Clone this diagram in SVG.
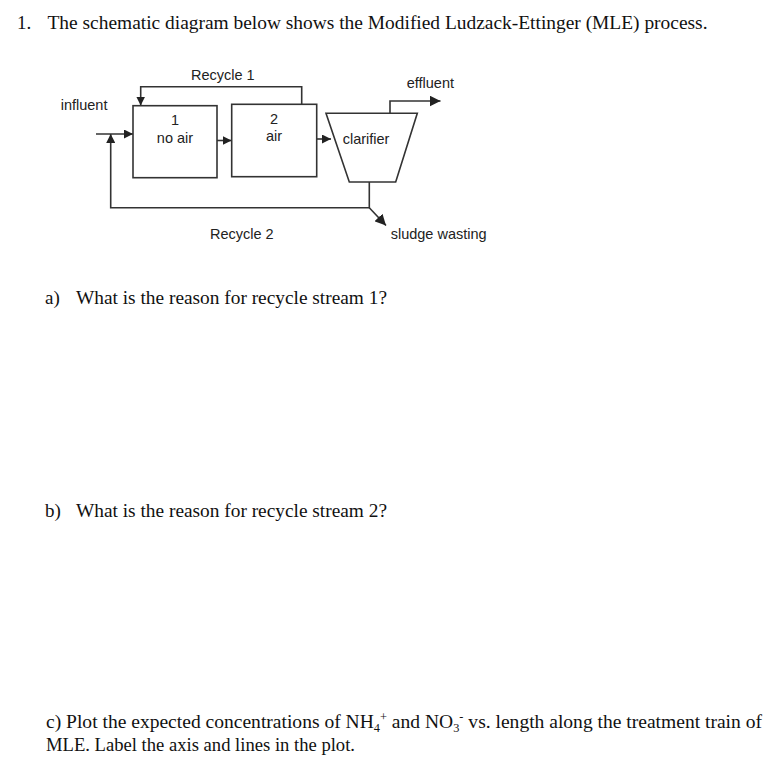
<svg xmlns="http://www.w3.org/2000/svg" width="776" height="768" viewBox="0 0 776 768">
<defs>
<style>
.q{font-family:"Liberation Serif","Times New Roman",serif;font-size:19px;fill:#111}
.l{font-family:"Liberation Sans",Arial,sans-serif;font-size:14.5px;fill:#222}
.ln{fill:none;stroke:#333;stroke-width:1.6}
.bx{fill:#fff;stroke:#333;stroke-width:1.6}
</style>
<marker id="ah" viewBox="0 0 10 10" refX="10" refY="5" markerWidth="9" markerHeight="9" markerUnits="userSpaceOnUse" orient="auto">
<path d="M0,0 L10,5 L0,10 Z" fill="#222"/>
</marker>
<marker id="ahb" viewBox="0 0 10 10" refX="10" refY="5" markerWidth="11" markerHeight="11" markerUnits="userSpaceOnUse" orient="auto">
<path d="M0,0 L10,5 L0,10 Z" fill="#222"/>
</marker>
</defs>
<rect width="776" height="768" fill="#fff"/>
<g id="questions">
<text class="q" x="17" y="28.5">1.</text>
<text class="q" x="47.5" y="28.5" textLength="660" lengthAdjust="spacingAndGlyphs">The schematic diagram below shows the Modified Ludzack-Ettinger (MLE) process.</text>
<text class="q" x="45" y="304">a)</text>
<text class="q" x="76" y="304" textLength="311" lengthAdjust="spacingAndGlyphs">What is the reason for recycle stream 1?</text>
<text class="q" x="45" y="516.5">b)</text>
<text class="q" x="76" y="516.5" textLength="311" lengthAdjust="spacingAndGlyphs">What is the reason for recycle stream 2?</text>
<text class="q" x="46" y="728" textLength="716" lengthAdjust="spacingAndGlyphs">c) Plot the expected concentrations of NH<tspan font-size="12" dy="4">4</tspan><tspan font-size="12" dy="-11">+</tspan><tspan dy="7"> and NO</tspan><tspan font-size="12" dy="4">3</tspan><tspan font-size="12" dy="-11">-</tspan><tspan dy="7"> vs. length along the treatment train of</tspan></text>
<text class="q" x="46" y="751" textLength="309" lengthAdjust="spacingAndGlyphs">MLE. Label the axis and lines in the plot.</text>
</g>
<g id="connectors">
<polyline class="ln" points="301.7,104.3 301.7,86.7 140.7,86.7 140.7,105.5" marker-end="url(#ah)"/>
<line class="ln" x1="96" y1="134" x2="133" y2="134" marker-end="url(#ah)"/>
<polyline class="ln" points="369.3,182 369.3,207.7 110.7,207.7 110.7,134" marker-end="url(#ah)"/>
<line class="ln" x1="369.3" y1="207.7" x2="386" y2="225.5" marker-end="url(#ahb)"/>
<line class="ln" x1="217" y1="140.5" x2="231.5" y2="140.5" marker-end="url(#ah)"/>
<line class="ln" x1="317" y1="139" x2="331" y2="139" marker-end="url(#ah)"/>
<polyline class="ln" points="390,113.3 390,101 440.5,101" marker-end="url(#ahb)"/>
</g>
<g id="tank1">
<rect class="bx" x="133" y="105.7" width="84" height="72"/>
<text class="l" x="175" y="125" text-anchor="middle">1</text>
<text class="l" x="175" y="142.5" text-anchor="middle">no air</text>
</g>
<g id="tank2">
<rect class="bx" x="231.7" y="104.3" width="85" height="72.4"/>
<text class="l" x="274" y="124" text-anchor="middle">2</text>
<text class="l" x="274" y="140.5" text-anchor="middle">air</text>
</g>
<g id="clarifier">
<polygon class="bx" points="326,113.3 417.3,113.3 395.7,182 349.3,182"/>
<text class="l" x="342.7" y="144">clarifier</text>
</g>
<g id="labels">
<text class="l" x="191" y="80">Recycle 1</text>
<text class="l" x="60.7" y="110">influent</text>
<text class="l" x="406.7" y="88">effluent</text>
<text class="l" x="210" y="239.3">Recycle 2</text>
<text class="l" x="390.7" y="239">sludge wasting</text>
</g>
</svg>
